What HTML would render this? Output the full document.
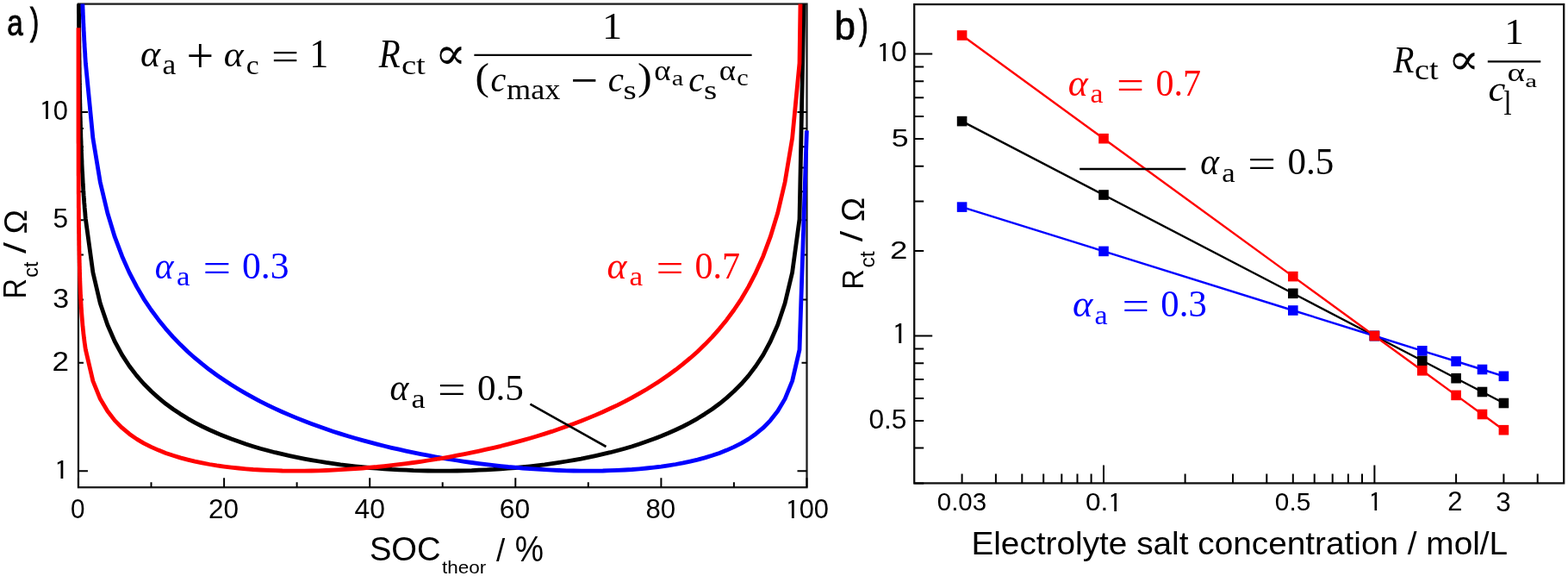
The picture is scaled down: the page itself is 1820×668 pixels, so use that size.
<!DOCTYPE html>
<html><head><meta charset="utf-8"><title>Rct vs SOC and electrolyte concentration</title>
<style>html,body{margin:0;padding:0;background:#fff;width:1820px;height:668px;overflow:hidden}svg{display:block}</style>
</head><body>
<svg width="1820" height="668" viewBox="0 0 1820 668">
<rect width="1820" height="668" fill="#fff"/>
<rect x="90.95" y="4.6" width="845.55" height="560.60" fill="none" stroke="#1e1e1e" stroke-width="2.3"/><path d="M90.95,546.2h11M936.5,546.2h-11M90.95,420.8h6M936.5,420.8h-6M90.95,347.6h6M936.5,347.6h-6M90.95,295.5h6M936.5,295.5h-6M90.95,255.2h6M936.5,255.2h-6M90.95,222.2h6M936.5,222.2h-6M90.95,194.4h6M936.5,194.4h-6M90.95,170.2h6M936.5,170.2h-6M90.95,149.0h6M936.5,149.0h-6M90.95,129.9h11M936.5,129.9h-11M91.0,565.2v-11M175.5,565.2v-6M260.1,565.2v-11M344.6,565.2v-6M429.2,565.2v-11M513.7,565.2v-6M598.3,565.2v-11M682.8,565.2v-6M767.4,565.2v-11M851.9,565.2v-6M936.5,565.2v-11" stroke="#000" stroke-width="2" fill="none"/>
<path d="M91.5,4.6 L91.5,6.4 L91.5,8.5 L91.5,10.6 L91.5,12.7 L91.5,14.8 L91.6,16.8 L91.6,18.9 L91.6,21.0 L91.6,23.1 L91.6,25.2 L91.6,27.2 L91.6,29.3 L91.7,31.4 L91.7,33.5 L91.7,35.6 L91.7,37.6 L91.7,39.7 L91.7,41.8 L91.8,43.9 L91.8,46.0 L91.8,48.0 L91.8,50.1 L91.8,52.2 L91.9,54.3 L91.9,56.3 L91.9,58.4 L91.9,60.5 L92.0,62.6 L92.0,64.7 L92.0,66.7 L92.0,68.8 L92.1,70.9 L92.1,73.0 L92.1,75.1 L92.1,77.1 L92.2,79.2 L92.2,81.3 L92.2,83.4 L92.2,85.4 L92.3,87.5 L92.3,89.6 L92.3,91.7 L92.4,93.8 L92.4,95.8 L92.4,97.9 L92.5,100.0 L92.5,102.1 L92.5,104.1 L92.6,106.2 L92.6,108.3 L92.7,110.4 L92.7,112.5 L92.7,114.5 L92.8,116.6 L92.8,118.7 L92.9,120.8 L92.9,122.8 L93.0,124.9 L93.0,127.0 L93.0,129.1 L93.1,131.1 L93.1,133.2 L93.2,135.3 L93.3,137.4 L93.3,139.4 L93.4,141.5 L93.4,143.6 L93.5,145.7 L93.5,147.7 L93.6,149.8 L93.7,151.9 L93.7,154.0 L93.8,156.0 L93.8,158.1 L93.9,160.2 L94.0,162.3 L94.1,164.3 L94.1,166.4 L94.2,168.5 L94.3,170.6 L94.4,172.6 L94.4,174.7 L94.5,176.8 L94.6,178.9 L94.7,180.9 L94.8,183.0 L94.9,185.1 L95.0,187.1 L95.0,189.2 L95.1,191.3 L95.2,193.4 L95.3,195.4 L95.4,197.5 L95.5,199.6 L95.7,201.6 L95.8,203.7 L95.9,205.8 L96.0,207.8 L96.1,209.9 L96.2,212.0 L96.3,214.0 L96.5,216.1 L96.6,218.2 L96.7,220.2 L96.9,222.3 L97.0,224.4 L97.1,226.4 L97.3,228.5 L97.4,230.6 L97.6,232.6 L97.7,234.7 L97.9,236.8 L98.1,238.8 L98.2,240.9 L98.4,243.0 L98.6,245.0 L98.8,247.1 L98.9,249.1 L99.1,251.2 L99.3,253.3 L107.9,316.0 L116.3,351.8 L124.8,376.8 L133.2,396.0 L141.7,411.6 L150.1,424.5 L158.6,435.6 L167.0,445.3 L175.5,453.8 L184.0,461.4 L192.4,468.3 L200.9,474.5 L209.3,480.1 L217.8,485.3 L226.2,490.1 L234.7,494.5 L243.1,498.5 L251.6,502.3 L260.1,505.8 L268.5,509.1 L277.0,512.1 L285.4,515.0 L293.9,517.7 L302.3,520.2 L310.8,522.5 L319.2,524.7 L327.7,526.7 L336.2,528.6 L344.6,530.4 L353.1,532.1 L361.5,533.6 L370.0,535.0 L378.4,536.4 L386.9,537.6 L395.3,538.8 L403.8,539.8 L412.3,540.8 L420.7,541.7 L429.2,542.5 L437.6,543.2 L446.1,543.8 L454.5,544.4 L463.0,544.8 L471.4,545.2 L479.9,545.6 L488.4,545.8 L496.8,546.0 L505.3,546.1 L513.7,546.2 L522.2,546.1 L530.6,546.0 L539.1,545.8 L547.5,545.6 L556.0,545.2 L564.5,544.8 L572.9,544.4 L581.4,543.8 L589.8,543.2 L598.3,542.5 L606.7,541.7 L615.2,540.8 L623.6,539.8 L632.1,538.8 L640.6,537.6 L649.0,536.4 L657.5,535.0 L665.9,533.6 L674.4,532.1 L682.8,530.4 L691.3,528.6 L699.7,526.7 L708.2,524.7 L716.7,522.5 L725.1,520.2 L733.6,517.7 L742.0,515.0 L750.5,512.1 L758.9,509.1 L767.4,505.8 L775.8,502.3 L784.3,498.5 L792.8,494.5 L801.2,490.1 L809.7,485.3 L818.1,480.1 L826.6,474.5 L835.0,468.3 L843.5,461.4 L851.9,453.8 L860.4,445.3 L868.9,435.6 L877.3,424.5 L885.8,411.6 L894.2,396.0 L902.7,376.8 L911.1,351.8 L919.6,316.0 L928.0,254.3 L933.0,4.6" fill="none" stroke="#000" stroke-width="4.8" stroke-linejoin="round"/><path d="M95.9,4.6 L95.9,6.5 L96.0,7.9 L96.0,9.4 L96.1,10.9 L96.2,12.3 L96.2,13.8 L96.3,15.2 L96.3,16.7 L96.4,18.1 L96.5,19.6 L96.5,21.0 L96.6,22.5 L96.7,23.9 L96.7,25.4 L96.8,26.8 L96.9,28.3 L96.9,29.7 L97.0,31.2 L97.1,32.6 L97.1,34.1 L97.2,35.6 L97.3,37.0 L97.4,38.5 L97.4,39.9 L97.5,41.4 L97.6,42.8 L97.7,44.3 L97.7,45.7 L97.8,47.2 L97.9,48.6 L98.0,50.1 L98.1,51.5 L98.1,53.0 L98.2,54.4 L98.3,55.9 L98.4,57.3 L98.5,58.8 L98.6,60.2 L98.7,61.7 L98.8,63.1 L98.8,64.6 L98.9,66.0 L99.0,67.5 L99.1,68.9 L99.2,70.4 L99.3,71.8 L99.4,73.3 L107.9,160.4 L116.3,211.2 L124.8,247.0 L133.2,274.7 L141.7,297.2 L150.1,316.1 L158.6,332.4 L167.0,346.8 L175.5,359.5 L184.0,370.9 L192.4,381.3 L200.9,390.9 L209.3,399.6 L217.8,407.7 L226.2,415.2 L234.7,422.2 L243.1,428.8 L251.6,435.0 L260.1,440.8 L268.5,446.3 L277.0,451.5 L285.4,456.4 L293.9,461.1 L302.3,465.6 L310.8,469.8 L319.2,473.8 L327.7,477.7 L336.2,481.4 L344.6,484.9 L353.1,488.3 L361.5,491.5 L370.0,494.6 L378.4,497.5 L386.9,500.4 L395.3,503.1 L403.8,505.7 L412.3,508.2 L420.7,510.6 L429.2,512.9 L437.6,515.1 L446.1,517.3 L454.5,519.3 L463.0,521.2 L471.4,523.1 L479.9,524.9 L488.4,526.6 L496.8,528.2 L505.3,529.8 L513.7,531.3 L522.2,532.7 L530.6,534.0 L539.1,535.3 L547.5,536.5 L556.0,537.6 L564.5,538.7 L572.9,539.7 L581.4,540.6 L589.8,541.5 L598.3,542.2 L606.7,543.0 L615.2,543.6 L623.6,544.2 L632.1,544.7 L640.6,545.1 L649.0,545.5 L657.5,545.8 L665.9,546.0 L674.4,546.1 L682.8,546.2 L691.3,546.1 L699.7,546.0 L708.2,545.7 L716.7,545.4 L725.1,545.0 L733.6,544.5 L742.0,543.8 L750.5,543.0 L758.9,542.1 L767.4,541.1 L775.8,539.9 L784.3,538.5 L792.8,536.9 L801.2,535.1 L809.7,533.1 L818.1,530.9 L826.6,528.3 L835.0,525.4 L843.5,522.1 L851.9,518.4 L860.4,514.1 L868.9,509.1 L877.3,503.2 L885.8,496.2 L894.2,487.6 L902.7,476.8 L911.1,462.6 L919.6,441.9 L928.0,405.6 L936.4,151.4" fill="none" stroke="#0000ff" stroke-width="4.8" stroke-linejoin="round"/><path d="M91.0,32.2 L91.0,33.5 L91.0,34.7 L91.0,36.0 L91.0,37.2 L91.0,38.5 L91.0,39.7 L91.0,40.9 L91.0,42.2 L91.0,43.4 L91.0,44.7 L91.0,45.9 L91.0,47.2 L91.0,48.4 L91.0,49.7 L91.0,50.9 L91.0,52.2 L91.0,53.4 L91.0,54.7 L91.0,55.9 L91.0,57.2 L91.0,58.4 L91.0,59.7 L91.0,60.9 L91.0,62.2 L91.0,63.4 L91.0,64.7 L91.0,65.9 L91.0,67.2 L91.0,68.4 L91.0,69.7 L91.0,70.9 L91.0,72.2 L91.0,73.4 L91.0,74.7 L91.0,75.9 L91.0,77.2 L91.0,78.4 L91.0,79.7 L91.0,80.9 L91.0,82.2 L91.0,83.4 L91.0,84.7 L91.0,85.9 L91.0,87.1 L91.0,88.4 L91.0,89.6 L91.0,90.9 L91.0,92.1 L91.0,93.4 L91.0,94.6 L91.0,95.9 L91.0,97.1 L91.0,98.4 L91.0,99.6 L91.0,100.9 L91.0,102.1 L91.0,103.4 L91.0,104.6 L91.0,105.9 L91.0,107.1 L91.0,108.4 L91.0,109.6 L91.0,110.9 L91.0,112.1 L91.0,113.4 L91.0,114.6 L91.0,115.9 L91.0,117.1 L91.0,118.4 L91.0,119.6 L91.0,120.9 L91.0,122.1 L91.0,123.4 L91.0,124.6 L91.0,125.9 L91.0,127.1 L91.0,128.4 L91.0,129.6 L91.0,130.9 L91.0,132.1 L91.0,133.3 L91.0,134.6 L91.0,135.8 L91.0,137.1 L91.0,138.3 L91.0,139.6 L91.0,140.8 L91.0,142.1 L91.0,143.3 L91.0,144.6 L91.0,145.8 L91.0,147.1 L91.0,148.3 L91.0,149.6 L91.0,150.8 L91.0,152.1 L91.0,153.3 L91.0,154.6 L91.0,155.8 L91.0,157.1 L91.0,158.3 L91.0,159.6 L91.0,160.8 L91.0,162.1 L91.0,163.3 L91.0,164.6 L91.0,165.8 L91.1,167.1 L91.1,168.3 L91.1,169.6 L91.1,170.8 L91.1,172.1 L91.1,173.3 L91.1,174.5 L91.1,175.8 L91.1,177.0 L91.1,178.3 L91.1,179.5 L91.1,180.8 L91.1,182.0 L91.1,183.3 L91.1,184.5 L91.1,185.8 L91.1,187.0 L91.1,188.3 L91.1,189.5 L91.1,190.8 L91.1,192.0 L91.1,193.3 L91.1,194.5 L91.1,195.8 L91.1,197.0 L91.1,198.3 L91.1,199.5 L91.1,200.8 L91.1,202.0 L91.1,203.3 L91.2,204.5 L91.2,205.8 L91.2,207.0 L91.2,208.2 L91.2,209.5 L91.2,210.7 L91.2,212.0 L91.2,213.2 L91.2,214.5 L91.2,215.7 L91.2,217.0 L91.2,218.2 L91.2,219.5 L91.2,220.7 L91.2,222.0 L91.2,223.2 L91.2,224.5 L91.3,225.7 L91.3,227.0 L91.3,228.2 L91.3,229.5 L91.3,230.7 L91.3,232.0 L91.3,233.2 L91.3,234.5 L91.3,235.7 L91.3,236.9 L91.3,238.2 L91.3,239.4 L91.3,240.7 L91.4,241.9 L91.4,243.2 L91.4,244.4 L91.4,245.7 L91.4,246.9 L91.4,248.2 L91.4,249.4 L91.4,250.7 L91.4,251.9 L91.4,253.2 L91.5,254.4 L91.5,255.7 L91.5,256.9 L91.5,258.1 L91.5,259.4 L91.5,260.6 L91.5,261.9 L91.5,263.1 L91.6,264.4 L91.6,265.6 L91.6,266.9 L91.6,268.1 L91.6,269.4 L91.6,270.6 L91.7,271.9 L91.7,273.1 L91.7,274.4 L91.7,275.6 L91.7,276.8 L91.7,278.1 L91.8,279.3 L91.8,280.6 L91.8,281.8 L91.8,283.1 L91.8,284.3 L91.9,285.6 L91.9,286.8 L91.9,288.1 L91.9,289.3 L91.9,290.6 L92.0,291.8 L92.0,293.0 L92.0,294.3 L92.0,295.5 L92.1,296.8 L92.1,298.0 L92.1,299.3 L92.1,300.5 L92.2,301.8 L92.2,303.0 L92.2,304.2 L92.3,305.5 L92.3,306.7 L92.3,308.0 L92.4,309.2 L92.4,310.5 L92.4,311.7 L92.5,313.0 L92.5,314.2 L92.5,315.4 L92.6,316.7 L92.6,317.9 L92.6,319.2 L92.7,320.4 L92.7,321.7 L92.8,322.9 L92.8,324.1 L92.8,325.4 L92.9,326.6 L92.9,327.9 L93.0,329.1 L93.0,330.3 L93.1,331.6 L93.1,332.8 L93.2,334.1 L93.2,335.3 L93.3,336.6 L93.3,337.8 L93.4,339.0 L93.4,340.3 L93.5,341.5 L93.6,342.8 L93.6,344.0 L93.7,345.2 L93.7,346.5 L93.8,347.7 L93.9,349.0 L94.0,350.2 L94.0,351.4 L94.1,352.7 L94.2,353.9 L94.2,355.1 L94.3,356.4 L94.4,357.6 L94.5,358.9 L94.6,360.1 L94.6,361.3 L94.7,362.6 L94.8,363.8 L94.9,365.0 L95.0,366.3 L95.1,367.5 L95.2,368.7 L95.3,370.0 L95.4,371.2 L95.5,372.4 L95.6,373.7 L95.7,374.9 L95.8,376.1 L95.9,377.4 L96.0,378.6 L96.2,379.8 L96.3,381.1 L96.4,382.3 L96.5,383.5 L96.7,384.7 L96.8,386.0 L96.9,387.2 L97.1,388.4 L97.2,389.7 L97.4,390.9 L97.5,392.1 L97.7,393.3 L97.8,394.6 L98.0,395.8 L98.1,397.0 L98.3,398.2 L98.5,399.5 L98.7,400.7 L98.8,401.9 L99.0,403.1 L99.2,404.3 L99.4,405.6 L107.9,441.9 L116.3,462.6 L124.8,476.8 L133.2,487.6 L141.7,496.2 L150.1,503.2 L158.6,509.1 L167.0,514.1 L175.5,518.4 L184.0,522.1 L192.4,525.4 L200.9,528.3 L209.3,530.9 L217.8,533.1 L226.2,535.1 L234.7,536.9 L243.1,538.5 L251.6,539.9 L260.1,541.1 L268.5,542.1 L277.0,543.0 L285.4,543.8 L293.9,544.5 L302.3,545.0 L310.8,545.4 L319.2,545.7 L327.7,546.0 L336.2,546.1 L344.6,546.2 L353.1,546.1 L361.5,546.0 L370.0,545.8 L378.4,545.5 L386.9,545.1 L395.3,544.7 L403.8,544.2 L412.3,543.6 L420.7,543.0 L429.2,542.2 L437.6,541.5 L446.1,540.6 L454.5,539.7 L463.0,538.7 L471.4,537.6 L479.9,536.5 L488.4,535.3 L496.8,534.0 L505.3,532.7 L513.7,531.3 L522.2,529.8 L530.6,528.2 L539.1,526.6 L547.5,524.9 L556.0,523.1 L564.5,521.2 L572.9,519.3 L581.4,517.3 L589.8,515.1 L598.3,512.9 L606.7,510.6 L615.2,508.2 L623.6,505.7 L632.1,503.1 L640.6,500.4 L649.0,497.5 L657.5,494.6 L665.9,491.5 L674.4,488.3 L682.8,484.9 L691.3,481.4 L699.7,477.7 L708.2,473.8 L716.7,469.8 L725.1,465.6 L733.6,461.1 L742.0,456.4 L750.5,451.5 L758.9,446.3 L767.4,440.8 L775.8,435.0 L784.3,428.8 L792.8,422.2 L801.2,415.2 L809.7,407.7 L818.1,399.6 L826.6,390.9 L835.0,381.3 L843.5,370.9 L851.9,359.5 L860.4,346.8 L868.9,332.4 L877.3,316.1 L885.8,297.2 L894.2,274.7 L902.7,247.0 L911.1,211.2 L919.6,160.4 L928.0,73.3 L929.0,4.6" fill="none" stroke="#ff0000" stroke-width="4.8" stroke-linejoin="round"/>
<rect x="1061.2" y="5.05" width="754.00" height="555.35" fill="none" stroke="#111" stroke-width="2.3"/><path d="M1061.2,560.4h11M1061.2,519.6h11M1061.2,487.9h11M1061.2,462.0h11M1061.2,440.1h11M1061.2,421.2h11M1061.2,404.4h11M1061.2,389.5h21M1061.2,291.1h11M1061.2,233.5h11M1061.2,192.7h11M1061.2,161.0h11M1061.2,135.1h11M1061.2,113.2h11M1061.2,94.3h11M1061.2,77.6h11M1061.2,62.6h21M1116.6,560.4v-11M1155.9,560.4v-11M1186.3,560.4v-11M1211.2,560.4v-11M1232.3,560.4v-11M1250.5,560.4v-11M1266.6,560.4v-11M1281.0,560.4v-21M1375.6,560.4v-11M1431.0,560.4v-11M1470.3,560.4v-11M1500.8,560.4v-11M1525.7,560.4v-11M1546.7,560.4v-11M1564.9,560.4v-11M1581.0,560.4v-11M1595.4,560.4v-21M1690.1,560.4v-11M1745.4,560.4v-11M1784.7,560.4v-11" stroke="#000" stroke-width="2" fill="none"/>
<path d="M1116.6,140.6 L1281.0,226.0 L1500.8,340.3 L1595.4,389.5 L1650.8,418.3 L1690.1,438.7 L1720.5,454.5 L1745.4,467.5" fill="none" stroke="#000" stroke-width="2.4"/><rect x="1110.8" y="134.8" width="11.6" height="11.6" fill="#000"/><rect x="1275.2" y="220.2" width="11.6" height="11.6" fill="#000"/><rect x="1495.0" y="334.5" width="11.6" height="11.6" fill="#000"/><rect x="1589.6" y="383.7" width="11.6" height="11.6" fill="#000"/><rect x="1645.0" y="412.5" width="11.6" height="11.6" fill="#000"/><rect x="1684.3" y="432.9" width="11.6" height="11.6" fill="#000"/><rect x="1714.7" y="448.7" width="11.6" height="11.6" fill="#000"/><rect x="1739.6" y="461.7" width="11.6" height="11.6" fill="#000"/><path d="M1116.6,240.1 L1281.0,291.4 L1500.8,360.0 L1595.4,389.5 L1650.8,406.8 L1690.1,419.0 L1720.5,428.5 L1745.4,436.3" fill="none" stroke="#0000ff" stroke-width="2.4"/><rect x="1110.8" y="234.3" width="11.6" height="11.6" fill="#0000ff"/><rect x="1275.2" y="285.6" width="11.6" height="11.6" fill="#0000ff"/><rect x="1495.0" y="354.2" width="11.6" height="11.6" fill="#0000ff"/><rect x="1589.6" y="383.7" width="11.6" height="11.6" fill="#0000ff"/><rect x="1645.0" y="401.0" width="11.6" height="11.6" fill="#0000ff"/><rect x="1684.3" y="413.2" width="11.6" height="11.6" fill="#0000ff"/><rect x="1714.7" y="422.7" width="11.6" height="11.6" fill="#0000ff"/><rect x="1739.6" y="430.5" width="11.6" height="11.6" fill="#0000ff"/><path d="M1116.6,41.0 L1281.0,160.7 L1500.8,320.6 L1595.4,389.5 L1650.8,429.8 L1690.1,458.4 L1720.5,480.5 L1745.4,498.7" fill="none" stroke="#ff0000" stroke-width="2.4"/><rect x="1110.8" y="35.2" width="11.6" height="11.6" fill="#ff0000"/><rect x="1275.2" y="154.9" width="11.6" height="11.6" fill="#ff0000"/><rect x="1495.0" y="314.8" width="11.6" height="11.6" fill="#ff0000"/><rect x="1589.6" y="383.7" width="11.6" height="11.6" fill="#ff0000"/><rect x="1645.0" y="424.0" width="11.6" height="11.6" fill="#ff0000"/><rect x="1684.3" y="452.6" width="11.6" height="11.6" fill="#ff0000"/><rect x="1714.7" y="474.7" width="11.6" height="11.6" fill="#ff0000"/><rect x="1739.6" y="492.9" width="11.6" height="11.6" fill="#ff0000"/>
<line x1="615.4" y1="468.6" x2="703.5" y2="518" stroke="#000" stroke-width="2.6"/><line x1="1253.2" y1="196" x2="1376.3" y2="196" stroke="#000" stroke-width="2.6"/><line x1="550.4" y1="63.9" x2="872.6" y2="63.9" stroke="#000" stroke-width="2.2"/><line x1="1726.8" y1="71.3" x2="1788.3" y2="71.3" stroke="#000" stroke-width="2.2"/>
<text transform="translate(8.31,40.68) scale(0.78,1)" font-family="'Liberation Sans', 'Liberation Sans', sans-serif" font-size="42.67" fill="#000" stroke="#000" stroke-width="0.9">a</text>
<text transform="translate(35,39.6) scale(0.68,1)" font-family="'Liberation Sans', 'Liberation Sans', sans-serif" font-size="44.8" fill="#000" stroke="#000" stroke-width="1.17">)</text>
<text transform="translate(968.41,45.64) scale(0.96,1)" font-family="'Liberation Sans', 'Liberation Sans', sans-serif" font-size="45.73" fill="#000" stroke="#000" stroke-width="0.73">b</text>
<text transform="translate(997.2,44.49) scale(0.68,1)" font-family="'Liberation Sans', 'Liberation Sans', sans-serif" font-size="45.32" fill="#000" stroke="#000" stroke-width="1.17">)</text>
<text transform="translate(162.91,77.12) scale(1.01,1)" font-family="'Liberation Serif', 'Liberation Serif', serif" font-size="43.6" font-style="italic" fill="#000">α</text>
<text transform="translate(188.49,85.97) scale(1.05,1)" font-family="'Liberation Serif', 'Liberation Serif', serif" font-size="33.8" fill="#000">a</text>
<text transform="translate(216.56,84.06) scale(0.98,1)" font-family="'Liberation Serif', 'Liberation Serif', serif" font-size="57.19" fill="#000">+</text>
<text transform="translate(259.82,76.93) scale(1.02,1)" font-family="'Liberation Serif', 'Liberation Serif', serif" font-size="42.8" font-style="italic" fill="#000">α</text>
<text transform="translate(285.65,85.7) scale(1.04,1)" font-family="'Liberation Serif', 'Liberation Serif', serif" font-size="32.2" fill="#000">c</text>
<text transform="translate(314.93,80.3) scale(1.27,1)" font-family="'Liberation Serif', 'Liberation Serif', serif" font-size="44.8" fill="#000">=</text>
<text transform="translate(359.36,77.8) scale(0.97,1)" font-family="'Liberation Serif', 'Liberation Serif', serif" font-size="45.4" fill="#000">1</text>
<text transform="translate(439.74,77.5) scale(0.89,1)" font-family="'Liberation Serif', 'Liberation Serif', serif" font-size="45.87" font-style="italic" fill="#000">R</text>
<text transform="translate(465.89,85.59) scale(1.19,1)" font-family="'Liberation Serif', 'Liberation Serif', serif" font-size="32.51" fill="#000">ct</text>
<text transform="translate(504.39,80.34) scale(1.03,1)" font-family="'DejaVu Serif', 'Liberation Serif', serif" font-size="52.68" fill="#000">∝</text>
<text transform="translate(699,44.7) scale(1.03,1)" font-family="'Liberation Serif', 'Liberation Serif', serif" font-size="44.95" fill="#000">1</text>
<text transform="translate(551.56,104.39) scale(1.12,1)" font-family="'Liberation Serif', 'Liberation Serif', serif" font-size="43.93" fill="#000">(</text>
<text transform="translate(569.57,106.12) scale(0.93,1)" font-family="'Liberation Serif', 'Liberation Serif', serif" font-size="43.2" font-style="italic" fill="#000">c</text>
<text transform="translate(588.03,115.27) scale(1.06,1)" font-family="'Liberation Serif', 'Liberation Serif', serif" font-size="34.2" fill="#000">max</text>
<text transform="translate(662.35,111.85)" font-family="'Liberation Serif', 'Liberation Serif', serif" font-size="56.53" fill="#000">−</text>
<text transform="translate(705.76,105.85) scale(0.99,1)" font-family="'Liberation Serif', 'Liberation Serif', serif" font-size="41.4" font-style="italic" fill="#000">c</text>
<text transform="translate(723.47,114.91) scale(1.24,1)" font-family="'Liberation Serif', 'Liberation Serif', serif" font-size="31.6" fill="#000">s</text>
<text transform="translate(739.92,104.48) scale(1.16,1)" font-family="'Liberation Serif', 'Liberation Serif', serif" font-size="43.5" fill="#000">)</text>
<text transform="translate(759.15,93.18) scale(1.09,1)" font-family="'Liberation Serif', 'Liberation Serif', serif" font-size="33.6" fill="#000">α</text>
<text transform="translate(779.65,99.22) scale(1.24,1)" font-family="'Liberation Serif', 'Liberation Serif', serif" font-size="24.6" fill="#000">a</text>
<text transform="translate(799.26,105.85) scale(0.99,1)" font-family="'Liberation Serif', 'Liberation Serif', serif" font-size="41.4" font-style="italic" fill="#000">c</text>
<text transform="translate(816.97,114.91) scale(1.24,1)" font-family="'Liberation Serif', 'Liberation Serif', serif" font-size="31.6" fill="#000">s</text>
<text transform="translate(834.85,93.18) scale(1.09,1)" font-family="'Liberation Serif', 'Liberation Serif', serif" font-size="33.6" fill="#000">α</text>
<text transform="translate(855.35,99.17) scale(1.1,1)" font-family="'Liberation Serif', 'Liberation Serif', serif" font-size="27.6" fill="#000">c</text>
<text transform="translate(179.75,323.32) scale(0.95,1)" font-family="'Liberation Serif', 'Liberation Serif', serif" font-size="43.8" font-style="italic" fill="#0000ff">α</text>
<text transform="translate(205,331.41) scale(1.11,1)" font-family="'Liberation Serif', 'Liberation Serif', serif" font-size="31.6" fill="#0000ff">a</text>
<text transform="translate(235.48,326.48) scale(1.24,1)" font-family="'Liberation Serif', 'Liberation Serif', serif" font-size="46.68" fill="#0000ff">=</text>
<text transform="translate(280.93,323.3) scale(0.98,1)" font-family="'Liberation Serif', 'Liberation Serif', serif" font-size="44.51" fill="#0000ff">0.3</text>
<text transform="translate(704.61,323.32)" font-family="'Liberation Serif', 'Liberation Serif', serif" font-size="43.8" font-style="italic" fill="#ff0000">α</text>
<text transform="translate(730.39,331.41) scale(1.12,1)" font-family="'Liberation Serif', 'Liberation Serif', serif" font-size="31.6" fill="#ff0000">a</text>
<text transform="translate(761.53,326.48) scale(1.22,1)" font-family="'Liberation Serif', 'Liberation Serif', serif" font-size="46.68" fill="#ff0000">=</text>
<text transform="translate(806.39,323.29) scale(0.93,1)" font-family="'Liberation Serif', 'Liberation Serif', serif" font-size="45.24" fill="#ff0000">0.7</text>
<text transform="translate(452.55,463.82) scale(0.95,1)" font-family="'Liberation Serif', 'Liberation Serif', serif" font-size="43.8" font-style="italic" fill="#000">α</text>
<text transform="translate(477.56,473.01) scale(1.15,1)" font-family="'Liberation Serif', 'Liberation Serif', serif" font-size="31.6" fill="#000">a</text>
<text transform="translate(508.08,466.98) scale(1.24,1)" font-family="'Liberation Serif', 'Liberation Serif', serif" font-size="46.68" fill="#000">=</text>
<text transform="translate(553.96,463.82)" font-family="'Liberation Serif', 'Liberation Serif', serif" font-size="43.2" fill="#000">0.5</text>
<text transform="translate(1239.72,110.82)" font-family="'Liberation Serif', 'Liberation Serif', serif" font-size="43.8" font-style="italic" fill="#ff0000">α</text>
<text transform="translate(1265.54,119.01) scale(1.07,1)" font-family="'Liberation Serif', 'Liberation Serif', serif" font-size="31.6" fill="#ff0000">a</text>
<text transform="translate(1296.03,113.98) scale(1.22,1)" font-family="'Liberation Serif', 'Liberation Serif', serif" font-size="46.68" fill="#ff0000">=</text>
<text transform="translate(1341.49,110.82) scale(0.96,1)" font-family="'Liberation Serif', 'Liberation Serif', serif" font-size="43.78" fill="#ff0000">0.7</text>
<text transform="translate(1393.15,201.52) scale(0.95,1)" font-family="'Liberation Serif', 'Liberation Serif', serif" font-size="43.8" font-style="italic" fill="#000">α</text>
<text transform="translate(1418.22,210.51) scale(1.1,1)" font-family="'Liberation Serif', 'Liberation Serif', serif" font-size="31.6" fill="#000">a</text>
<text transform="translate(1448.28,204.68) scale(1.24,1)" font-family="'Liberation Serif', 'Liberation Serif', serif" font-size="46.68" fill="#000">=</text>
<text transform="translate(1494.46,201.52) scale(0.99,1)" font-family="'Liberation Serif', 'Liberation Serif', serif" font-size="43.49" fill="#000">0.5</text>
<text transform="translate(1245.1,367.32) scale(1.02,1)" font-family="'Liberation Serif', 'Liberation Serif', serif" font-size="43.8" font-style="italic" fill="#0000ff">α</text>
<text transform="translate(1270.43,375.91) scale(1.08,1)" font-family="'Liberation Serif', 'Liberation Serif', serif" font-size="31.6" fill="#0000ff">a</text>
<text transform="translate(1302.58,370.48) scale(1.2,1)" font-family="'Liberation Serif', 'Liberation Serif', serif" font-size="46.68" fill="#0000ff">=</text>
<text transform="translate(1347.36,367.3) scale(0.96,1)" font-family="'Liberation Serif', 'Liberation Serif', serif" font-size="44.51" fill="#0000ff">0.3</text>
<text transform="translate(1617.32,83.5) scale(0.89,1)" font-family="'Liberation Serif', 'Liberation Serif', serif" font-size="44.34" font-style="italic" fill="#000">R</text>
<text transform="translate(1642.01,92.47) scale(1.12,1)" font-family="'Liberation Serif', 'Liberation Serif', serif" font-size="34.02" fill="#000">ct</text>
<text transform="translate(1680.79,86.45) scale(1.07,1)" font-family="'DejaVu Serif', 'Liberation Serif', serif" font-size="50.71" fill="#000">∝</text>
<text transform="translate(1746.16,51) scale(1.06,1)" font-family="'Liberation Serif', 'Liberation Serif', serif" font-size="42.87" fill="#000">1</text>
<text transform="translate(1727.4,116.85) scale(1.08,1)" font-family="'Liberation Serif', 'Liberation Serif', serif" font-size="41.4" font-style="italic" fill="#000">c</text>
<text transform="translate(1745.59,132.8) scale(0.82,1)" font-family="'Liberation Serif', 'Liberation Serif', serif" font-size="39.68" fill="#000">l</text>
<text transform="translate(1749.39,93.65) scale(1.35,1)" font-family="'Liberation Serif', 'Liberation Serif', serif" font-size="28.8" fill="#000">α</text>
<text transform="translate(1770.23,100.58) scale(1.49,1)" font-family="'Liberation Serif', 'Liberation Serif', serif" font-size="20.8" fill="#000">a</text>
<text transform="translate(45.29,140.46) scale(1.12,1)" font-family="'IPAGothic', 'Liberation Sans', sans-serif" font-size="31.17" fill="#000">1</text>
<text transform="translate(61.83,138.51) scale(0.99,1)" font-family="'Liberation Sans', 'Liberation Sans', sans-serif" font-size="31.17" fill="#000">0</text>
<text transform="translate(61.41,263.92) scale(1.03,1)" font-family="'Liberation Sans', 'Liberation Sans', sans-serif" font-size="30.75" fill="#000">5</text>
<text transform="translate(61.14,356.62) scale(1.1,1)" font-family="'Liberation Sans', 'Liberation Sans', sans-serif" font-size="30.89" fill="#000">3</text>
<text transform="translate(60.55,430.3) scale(1.11,1)" font-family="'Liberation Sans', 'Liberation Sans', sans-serif" font-size="31.57" fill="#000">2</text>
<text transform="translate(62.79,556.75) scale(1.12,1)" font-family="'IPAGothic', 'Liberation Sans', sans-serif" font-size="30.89" fill="#000">1</text>
<text transform="translate(82.08,601.32) scale(0.96,1)" font-family="'Liberation Sans', 'Liberation Sans', sans-serif" font-size="30.89" fill="#000">0</text>
<text transform="translate(242.02,600.91) scale(1.01,1)" font-family="'Liberation Sans', 'Liberation Sans', sans-serif" font-size="31.17" fill="#000">20</text>
<text transform="translate(411.6,600.91) scale(1.02,1)" font-family="'Liberation Sans', 'Liberation Sans', sans-serif" font-size="31.17" fill="#000">40</text>
<text transform="translate(579.81,600.91) scale(1.02,1)" font-family="'Liberation Sans', 'Liberation Sans', sans-serif" font-size="31.17" fill="#000">60</text>
<text transform="translate(749.52,600.91)" font-family="'Liberation Sans', 'Liberation Sans', sans-serif" font-size="31.17" fill="#000">80</text>
<text transform="translate(911.24,603.04) scale(1.12,1)" font-family="'IPAGothic', 'Liberation Sans', sans-serif" font-size="30.75" fill="#000">1</text>
<text transform="translate(927.74,601.11) scale(0.98,1)" font-family="'Liberation Sans', 'Liberation Sans', sans-serif" font-size="31.44" fill="#000">00</text>
<text transform="translate(1017.25,72.98) scale(1.12,1)" font-family="'IPAGothic', 'Liberation Sans', sans-serif" font-size="31.58" fill="#000">1</text>
<text transform="translate(1034.36,71.49) scale(1.02,1)" font-family="'Liberation Sans', 'Liberation Sans', sans-serif" font-size="32.56" fill="#000">0</text>
<text transform="translate(1034.69,169.93) scale(1.19,1)" font-family="'Liberation Sans', 'Liberation Sans', sans-serif" font-size="29.91" fill="#000">5</text>
<text transform="translate(1033.08,300.4) scale(1.21,1)" font-family="'Liberation Sans', 'Liberation Sans', sans-serif" font-size="30.29" fill="#000">2</text>
<text transform="translate(1035.25,400.11) scale(1.12,1)" font-family="'IPAGothic', 'Liberation Sans', sans-serif" font-size="32.14" fill="#000">1</text>
<text transform="translate(1008.41,496.62) scale(1.03,1)" font-family="'Liberation Sans', 'Liberation Sans', sans-serif" font-size="30.75" fill="#000">0.5</text>
<text transform="translate(1087.78,592.13) scale(0.97,1)" font-family="'Liberation Sans', 'Liberation Sans', sans-serif" font-size="30.33" fill="#000">0.03</text>
<text transform="translate(1260.02,591.83) scale(1.04,1)" font-family="'Liberation Sans', 'Liberation Sans', sans-serif" font-size="30.33" fill="#000">0.</text>
<text transform="translate(1285.68,593.51) scale(1.12,1)" font-family="'IPAGothic', 'Liberation Sans', sans-serif" font-size="30.05" fill="#000">1</text>
<text transform="translate(1479.87,592.13) scale(0.98,1)" font-family="'Liberation Sans', 'Liberation Sans', sans-serif" font-size="30.33" fill="#000">0.5</text>
<text transform="translate(1588.17,593.06) scale(1.12,1)" font-family="'IPAGothic', 'Liberation Sans', sans-serif" font-size="28.94" fill="#000">1</text>
<text transform="translate(1680.35,591.9) scale(1.02,1)" font-family="'Liberation Sans', 'Liberation Sans', sans-serif" font-size="30.44" fill="#000">2</text>
<text transform="translate(1736.33,592.51)" font-family="'Liberation Sans', 'Liberation Sans', sans-serif" font-size="31.3" fill="#000">3</text>
<text transform="translate(428.9,650.08) scale(0.97,1)" font-family="'Liberation Sans', 'Liberation Sans', sans-serif" font-size="39.37" fill="#000">SOC</text>
<text transform="translate(513,664.69) scale(1.12,1)" font-family="'Liberation Sans', 'Liberation Sans', sans-serif" font-size="20.13" fill="#000">theor</text>
<text transform="translate(575.9,651.11) scale(0.97,1)" font-family="'Liberation Sans', 'Liberation Sans', sans-serif" font-size="37.87" fill="#000">/</text>
<text transform="translate(597.74,651.04) scale(0.89,1)" font-family="'Liberation Sans', 'Liberation Sans', sans-serif" font-size="42.02" fill="#000">%</text>
<text transform="translate(1127.38,643.12) scale(1.05,1)" font-family="'Liberation Sans', 'Liberation Sans', sans-serif" font-size="36.93" fill="#000">Electrolyte salt concentration / mol/L</text>
<text transform="translate(30.1,346.44) rotate(-90) scale(0.89,1)" font-family="'Liberation Sans', 'Liberation Sans', sans-serif" font-size="36.41" fill="#000">R</text>
<text transform="translate(43.63,321.73) rotate(-90)" font-family="'Liberation Sans', 'Liberation Sans', sans-serif" font-size="23.37" fill="#000">ct</text>
<text transform="translate(29.65,293.9) rotate(-90) scale(1.34,1)" font-family="'Liberation Sans', 'Liberation Sans', sans-serif" font-size="35.07" fill="#000">/</text>
<text transform="translate(31.1,271.17) rotate(-90) scale(1.03,1)" font-family="'Liberation Sans', 'Liberation Sans', sans-serif" font-size="36.55" fill="#000">Ω</text>
<text transform="translate(1001.8,335.74) rotate(-90) scale(0.91,1)" font-family="'Liberation Sans', 'Liberation Sans', sans-serif" font-size="35.7" fill="#000">R</text>
<text transform="translate(1015.22,310.47) rotate(-90) scale(1.02,1)" font-family="'Liberation Sans', 'Liberation Sans', sans-serif" font-size="24.11" fill="#000">ct</text>
<text transform="translate(1001.24,280.2) rotate(-90) scale(1.25,1)" font-family="'Liberation Sans', 'Liberation Sans', sans-serif" font-size="35.87" fill="#000">/</text>
<text transform="translate(1002.7,257.08) rotate(-90) scale(1.02,1)" font-family="'Liberation Sans', 'Liberation Sans', sans-serif" font-size="36.98" fill="#000">Ω</text>
</svg>
</body></html>
